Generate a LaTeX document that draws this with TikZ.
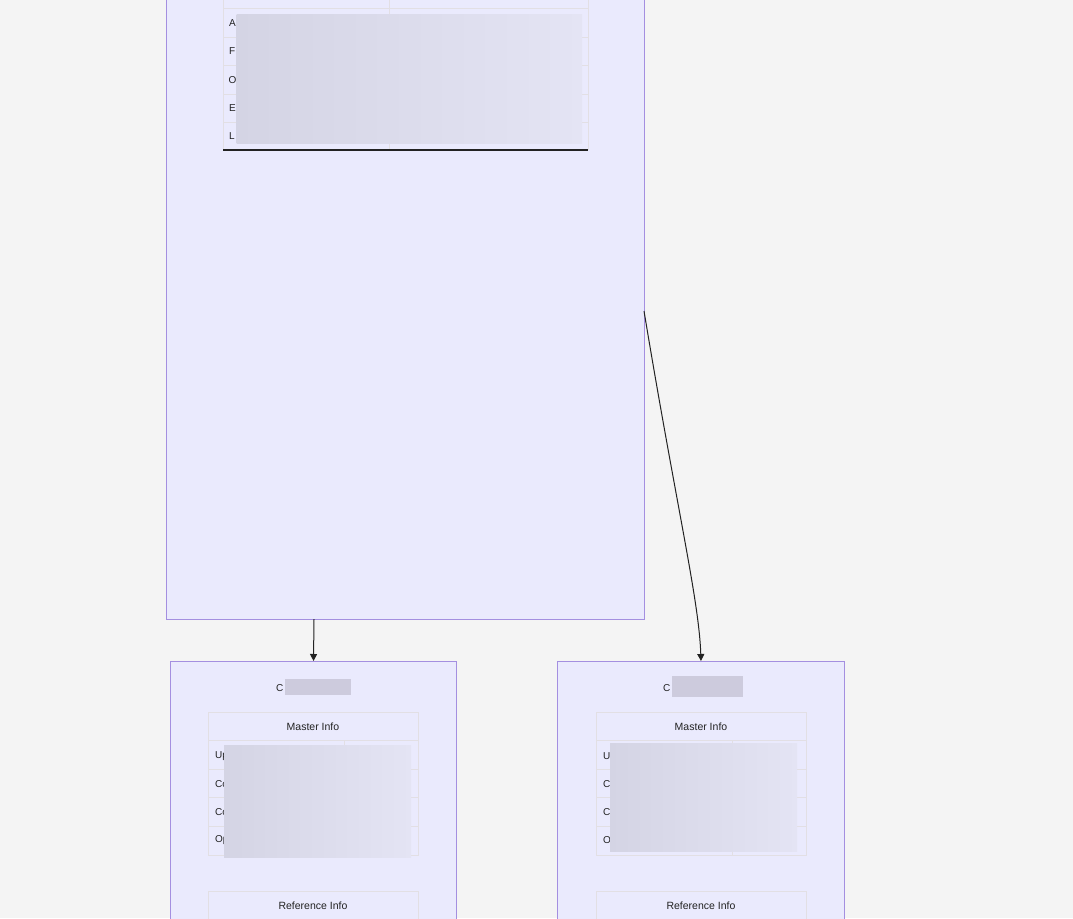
\documentclass[tikz,border=0pt]{standalone}
\usepackage{fontspec}
\setmainfont{Liberation Sans}
\usetikzlibrary{arrows.meta}
\definecolor{bg}{HTML}{F4F4F4}
\definecolor{clfill}{HTML}{EAEAFD}
\definecolor{clline}{HTML}{A48FE0}
\definecolor{grid}{HTML}{E2DFE4}
\definecolor{ink}{HTML}{222222}
\definecolor{blurA}{HTML}{D4D4E4}
\definecolor{blurB}{HTML}{E4E4F4}
\definecolor{tag}{HTML}{CDCBDD}
\tikzset{
  cluster/.style={draw=clline,fill=clfill,line width=1pt,anchor=north west,inner sep=0pt},
  gridline/.style={draw=grid,line width=1pt},
  lbl/.style={font=\fontsize{10}{12}\selectfont,text=ink,inner sep=0pt},
  hdr/.style={font=\fontsize{10.5}{12}\selectfont,text=ink,inner sep=0pt},
  blur/.style={left color=blurA,right color=blurB,draw=none},
  tagbox/.style={fill=tag,draw=none},
  arr/.style={draw=ink,line width=1pt,-{Triangle[length=7pt,width=7pt]}},
}
\begin{document}
\begin{tikzpicture}[x=1pt,y=-1pt]
\useasboundingbox (0,0) rectangle (1073,918);
\clip (0,0) rectangle (1073,918);
\fill[bg] (0,0) rectangle (1073,918);

% big cluster
\node[cluster,minimum width=478pt,minimum height=639pt] (big) at (166,-20) {};
% top table
\draw[gridline] (223,-20) -- (223,150) (389,-20) -- (389,150) (588,-20) -- (588,150);
\foreach \y in {8,37,65,94,122} \draw[gridline] (223,\y) -- (588,\y);
\draw[ink,line width=2pt] (223,150) -- (588,150);
\node[lbl,anchor=west] (ta) at (229,23) {A};
\node[lbl,anchor=west] (tf) at (229,51) {F};
\node[lbl,anchor=west] (to) at (228.5,80) {O};
\node[lbl,anchor=west] (te) at (229,108) {E};
\node[lbl,anchor=west] (tl) at (229,136) {L};
\fill[blur] (236.5,14) rectangle (582,143);

% lower left cluster
\node[cluster,minimum width=286pt,minimum height=300pt] (cl) at (170,661) {};
\node[lbl,anchor=west] (clt) at (276,688) {C};
\fill[tagbox] (285,679) rectangle (351,695);
\draw[gridline] (208,712) rectangle (418,855);
\draw[gridline] (208,740) -- (418,740);
\foreach \y in {769,797,826} \draw[gridline] (208,\y) -- (418,\y);
\draw[gridline] (344,740) -- (344,855);
\node[hdr] (clm) at (313,727) {Master Info};
\node[lbl,anchor=west] (cl1) at (215,756) {Up};
\node[lbl,anchor=west] (cl2) at (215,784) {Co};
\node[lbl,anchor=west] (cl3) at (215,812) {Co};
\node[lbl,anchor=west] (cl4) at (215,840) {Op};
\fill[blur] (224,745) rectangle (411,857);
\draw[gridline] (208,891) rectangle (418,940);
\node[hdr] (clr) at (313,906) {Reference Info};

% lower right cluster
\node[cluster,minimum width=287pt,minimum height=300pt] (cr) at (557,661) {};
\node[lbl,anchor=west] (crt) at (663,688) {C};
\fill[tagbox] (672,676) rectangle (743,697);
\draw[gridline] (596,712) rectangle (806,855);
\draw[gridline] (596,740) -- (806,740);
\foreach \y in {769,797,826} \draw[gridline] (596,\y) -- (806,\y);
\draw[gridline] (732,740) -- (732,855);
\node[hdr] (crm) at (701,727) {Master Info};
\node[lbl,anchor=west] (cr1) at (603,756) {U};
\node[lbl,anchor=west] (cr2) at (603,784) {C};
\node[lbl,anchor=west] (cr3) at (603,812) {C};
\node[lbl,anchor=west] (cr4) at (603,840) {O};
\fill[blur] (610,743) rectangle (797,851);
\draw[gridline] (596,891) rectangle (806,940);
\node[hdr] (crr) at (701,906) {Reference Info};

% connectors
\coordinate (b1) at (314,619);
\coordinate (b2) at (644,311);
\draw[arr] (b1) -- (cl.north);
\draw[arr] (b2) .. controls (677,510) and (699,600) .. (cr.north);
\end{tikzpicture}
\end{document}
